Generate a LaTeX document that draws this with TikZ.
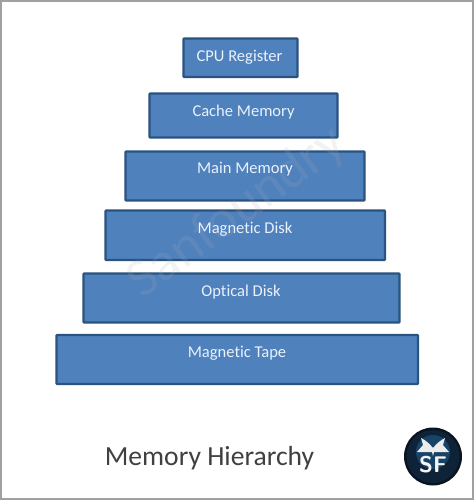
\documentclass[tikz,border=0pt]{standalone}
\usepackage{fontspec}
\setmainfont[Ligatures=NoCommon]{Carlito}
\usepackage{tikz}
\definecolor{boxfill}{HTML}{4F81BD}
\definecolor{boxline}{HTML}{2A5380}
\definecolor{labeltext}{HTML}{EAF1FB}
\definecolor{titletext}{HTML}{404040}
\definecolor{framegray}{HTML}{A0A0A0}
\definecolor{wmark}{HTML}{B0B0B8}
\definecolor{logobg}{HTML}{0E2338}
\definecolor{logoglow}{HTML}{1F5F8F}
\definecolor{logoring}{HTML}{0A1420}
\tikzset{
  x=0.75pt,y=-0.75pt,
  tierbox/.style={draw=boxline,line width=1.7pt,fill=boxfill,rounded corners=0.6pt},
  tierlabel/.style={text=labeltext,font=\fontsize{12.4}{14}\selectfont,inner sep=0pt,anchor=center},
}
\newcommand{\tierbox}[5]{%
  \draw[tierbox] (#2,#3) rectangle (#4,#5);
}
\begin{document}
\begin{tikzpicture}
\useasboundingbox (0,0) rectangle (474,500);
\fill[white] (0,0) rectangle (474,500);
\draw[framegray,line width=1.6pt] (1,1) rectangle (473,499);
\tierbox{cpu}{183.5}{38.5}{297.5}{77}
\tierbox{cache}{149.5}{93.5}{337.5}{137.5}
\tierbox{main}{125.5}{151.5}{364.5}{200.5}
\tierbox{disk}{105.5}{210.5}{385}{260}
\tierbox{optical}{83.5}{273.5}{399.5}{322.5}
\tierbox{tape}{56.5}{335}{418}{384}
\node[rotate=36,text=wmark,opacity=0.16,font=\fontsize{41}{44}\selectfont,inner sep=0pt] (wm) at (237,213) {Sanfoundry};
\node[tierlabel] (cpu) at (239.5,57) {CPU Register};
\node[tierlabel] (cache) at (243.5,112) {Cache Memory};
\node[tierlabel] (main) at (245,169) {Main Memory};
\node[tierlabel] (disk) at (245,229) {Magnetic Disk};
\node[tierlabel] (optical) at (241,292) {Optical Disk};
\node[tierlabel] (tape) at (237,353) {Magnetic Tape};
\node[text=titletext,font=\fontsize{20.7}{23}\selectfont,inner sep=0pt] (title) at (209.5,458) {Memory Hierarchy};
% logo
\fill[logoring] (433,456.5) circle (29);
\fill[logobg] (433,456.5) circle (26.5);
\fill[logoglow,opacity=.55] (433,452) circle (17);
\fill[white!85!gray] (433,448) .. controls (429,443) and (425,440) .. (421,438) -- (423,445) -- (417,452) -- (432,452) -- (433,456) -- (434,452) -- (449,452) -- (443,445) -- (445,438) .. controls (441,440) and (437,443) .. (433,448) -- cycle;
\node[text=white!92!gray,font=\fontsize{17}{18}\bfseries\sffamily\selectfont,inner sep=0pt] (sf) at (433,465) {SF};
\end{tikzpicture}
\end{document}
